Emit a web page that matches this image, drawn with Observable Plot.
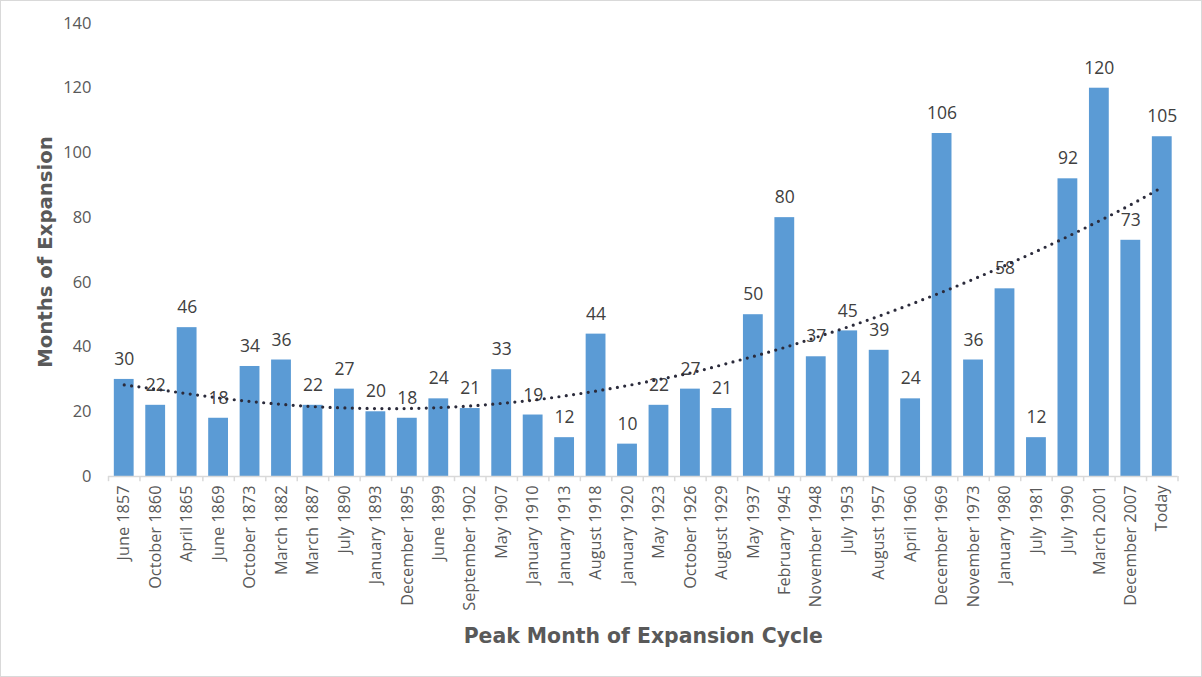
<!DOCTYPE html>
<html>
<head>
<meta charset="utf-8">
<script src="https://cdn.jsdelivr.net/npm/d3@7"></script>
<script src="https://cdn.jsdelivr.net/npm/@observablehq/plot@0.6"></script>
<style>
  html, body { margin: 0; padding: 0; background: #fff; }
  #chart { width: 1200px; height: 675px; border: 1px solid #d9d9d9; background: #fff; overflow: hidden; }
  #chart svg { display: block; }
</style>
</head>
<body>
<div id="chart"></div>
<script>
const categories = ["June 1857","October 1860","April 1865","June 1869","October 1873","March 1882","March 1887","July 1890","January 1893","December 1895","June 1899","September 1902","May 1907","January 1910","January 1913","August 1918","January 1920","May 1923","October 1926","August 1929","May 1937","February 1945","November 1948","July 1953","August 1957","April 1960","December 1969","November 1973","January 1980","July 1981","July 1990","March 2001","December 2007","Today"];
const months = [30,22,46,18,34,36,22,27,20,18,24,21,33,19,12,44,10,22,27,21,50,80,37,45,39,24,106,36,58,12,92,120,73,105];
// dotted polynomial trendline, values at each category
const trendValues = [28.3,27.0,25.6,24.3,23.2,22.3,21.6,21.2,21.0,21.0,21.3,21.8,22.6,23.6,24.9,26.4,28.1,30.0,32.0,34.5,37.1,39.9,43.0,46.2,49.6,53.2,57.0,61.0,65.2,69.6,74.2,79.0,84.0,89.4];
const yTicks = [0,20,40,60,80,100,120,140];
const xTitle = "Peak Month of Expansion Cycle";
const yTitle = "Months of Expansion";

const data = categories.map((c, i) => ({cat: c, months: months[i]}));
const trend = categories.map((c, i) => ({cat: c, v: trendValues[i]}));

const W = 1200, H = 675, mL = 107, mR = 23.5, mT = 22, mB = 200;
const step = (W - mL - mR) / categories.length;

const chart = Plot.plot({
  width: W, height: H,
  marginLeft: mL, marginRight: mR, marginTop: mT, marginBottom: mB,
  style: {fontFamily: "'Open Sans', sans-serif", background: "#fff", overflow: "visible"},
  x: {domain: categories, paddingInner: 0.37, paddingOuter: 0.185, round: false, label: null},
  y: {domain: [0, 140], label: null},
  marks: [
    Plot.axisY(yTicks, {tickSize: 0, tickPadding: 17, fontSize: 16.5, color: "#595959", label: null}),
    Plot.axisX({tickSize: 0, tickRotate: -90, tickPadding: 9, fontSize: 16.3, color: "#595959", label: null}),
    Plot.barY(data, {x: "cat", y: "months", fill: "#5b9bd5"}),
    Plot.ruleY([0], {stroke: "#d9d9d9", strokeWidth: 1.5}),
    Plot.ruleX(categories, {x: d => d, y1: 0, y2: -1.6, dx: -step / 2, stroke: "#d9d9d9", strokeWidth: 1.5}),
    Plot.ruleX([categories[categories.length - 1]], {x: d => d, y1: 0, y2: -1.6, dx: step / 2, stroke: "#d9d9d9", strokeWidth: 1.5}),
    Plot.text(data, {x: "cat", y: "months", text: d => String(d.months), dy: -20, fontSize: 17.5, fill: "#404040", lineAnchor: "middle"}),
    Plot.line(trend, {x: "cat", y: "v", stroke: "#2b2b3b", strokeWidth: 3.2, strokeDasharray: "0,7.4", strokeLinecap: "round", curve: "natural"}),
    Plot.text([yTitle], {frameAnchor: "left", rotate: -90, dx: -63, dy: 2, text: d => d, fontFamily: "'DejaVu Sans', sans-serif", fontWeight: "bold", fontSize: 19.7, fill: "#595959", textAnchor: "middle", lineAnchor: "middle"}),
    Plot.text([xTitle], {frameAnchor: "bottom", dy: 160, text: d => d, fontFamily: "'DejaVu Sans', sans-serif", fontWeight: "bold", fontSize: 20.4, fill: "#595959", textAnchor: "middle", lineAnchor: "middle"})
  ]
});
document.getElementById("chart").appendChild(chart);
</script>
</body>
</html>
